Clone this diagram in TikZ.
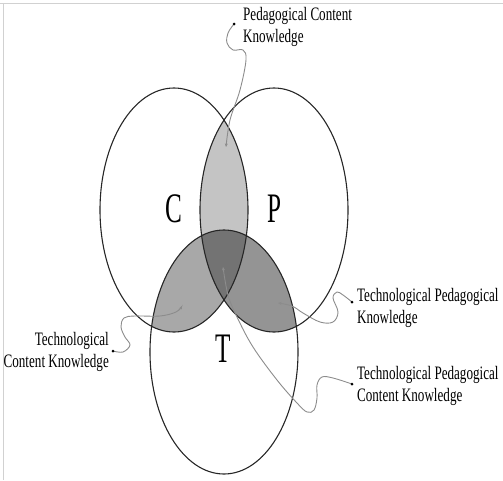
\documentclass[tikz,border=0pt]{standalone}
\usepackage{fontspec}
\setmainfont{Liberation Serif}
\usetikzlibrary{arrows.meta}

\definecolor{cpfill}{gray}{0.77}
\definecolor{ctfill}{gray}{0.66}
\definecolor{ptfill}{gray}{0.58}
\definecolor{cptfill}{gray}{0.45}

\begin{document}
\begin{tikzpicture}[x=1pt,y=-1pt,
  set/.style={draw=black!85,line width=1.1pt},
  big/.style={font=\fontsize{42}{42}\selectfont,xscale=0.6,inner sep=0pt,anchor=base},
  lbl/.style={font=\fontsize{19}{21.5}\selectfont,xscale=0.69,inner sep=0pt},
  conn/.style={draw=black!45,line width=0.9pt},
  >={Stealth[length=3.5pt,width=3pt]}]
  \useasboundingbox (0,0) rectangle (503,480);
  % frame
  \draw[black!18,line width=1pt] (0,3) -- (503,3) (3,3) -- (3,480);
  % sets
  \def\Cset{(174,210) ellipse [x radius=74,y radius=122]}
  \def\Pset{(274,210) ellipse [x radius=74,y radius=122]}
  \def\Tset{(224,352) ellipse [x radius=74,y radius=122]}
  \begin{scope}\clip \Cset; \fill[cpfill] \Pset; \end{scope}
  \begin{scope}\clip \Cset; \fill[ctfill] \Tset; \end{scope}
  \begin{scope}\clip \Pset; \fill[ptfill] \Tset; \end{scope}
  \begin{scope}\clip \Cset; \clip \Pset; \fill[cptfill] \Tset; \end{scope}
  \draw[set] \Cset \Pset \Tset;
  \node[big] (C) at (174,222) {C};
  \node[big] (P) at (274.5,222) {P};
  \node[big] (T) at (223,362) {T};
  % labels (base = last line)
  \node[lbl,anchor=base west,align=left] (pck) at (243,42) {Pedagogical Content\\Knowledge};
  \node[lbl,anchor=base west,align=left] (tpk) at (357,323) {Technological Pedagogical\\Knowledge};
  \node[lbl,anchor=base east,align=right] (tck) at (109,367) {Technological\\Content Knowledge};
  \node[lbl,anchor=base west,align=left] (tpck) at (357,401) {Technological Pedagogical\\Content Knowledge};
  % connector ends
  \coordinate (pckdot) at (234,24);  \coordinate (pcktip) at (226,147);
  \coordinate (tpkdot) at (352,302); \coordinate (tpktip) at (278,303);
  \coordinate (tckdot) at (113,351); \coordinate (tcktip) at (182,306);
  \coordinate (tpckdot) at (352,384); \coordinate (tpcktip) at (223,267);
  % connectors
  \draw[conn,->] plot[smooth,tension=0.6] coordinates {(pckdot) (228,33) (227,43) (233,50) (243,50) (246,60) (240,90) (230,120) (pcktip)};
  \draw[conn,->] plot[smooth,tension=0.6] coordinates {(tpkdot) (343,295) (337,292) (333,298) (338,312) (333,322) (320,322) (303,313) (292,306) (tpktip)};
  \draw[conn,->] plot[smooth,tension=0.6] coordinates {(tckdot) (123,352) (130,345) (125,337) (121,327) (124,318) (135,316) (160,316) (176,312) (tcktip)};
  \draw[conn,->] plot[smooth,tension=0.6] coordinates {(tpckdot) (333,378) (322,377) (317,385) (317,398) (314,410) (307,412) (297,403) (277,380) (253,347) (237,317) (228,295) (tpcktip)};
  \foreach \d in {pckdot,tpkdot,tckdot,tpckdot}{\fill (\d) circle (1.5);}
\end{tikzpicture}
\end{document}
